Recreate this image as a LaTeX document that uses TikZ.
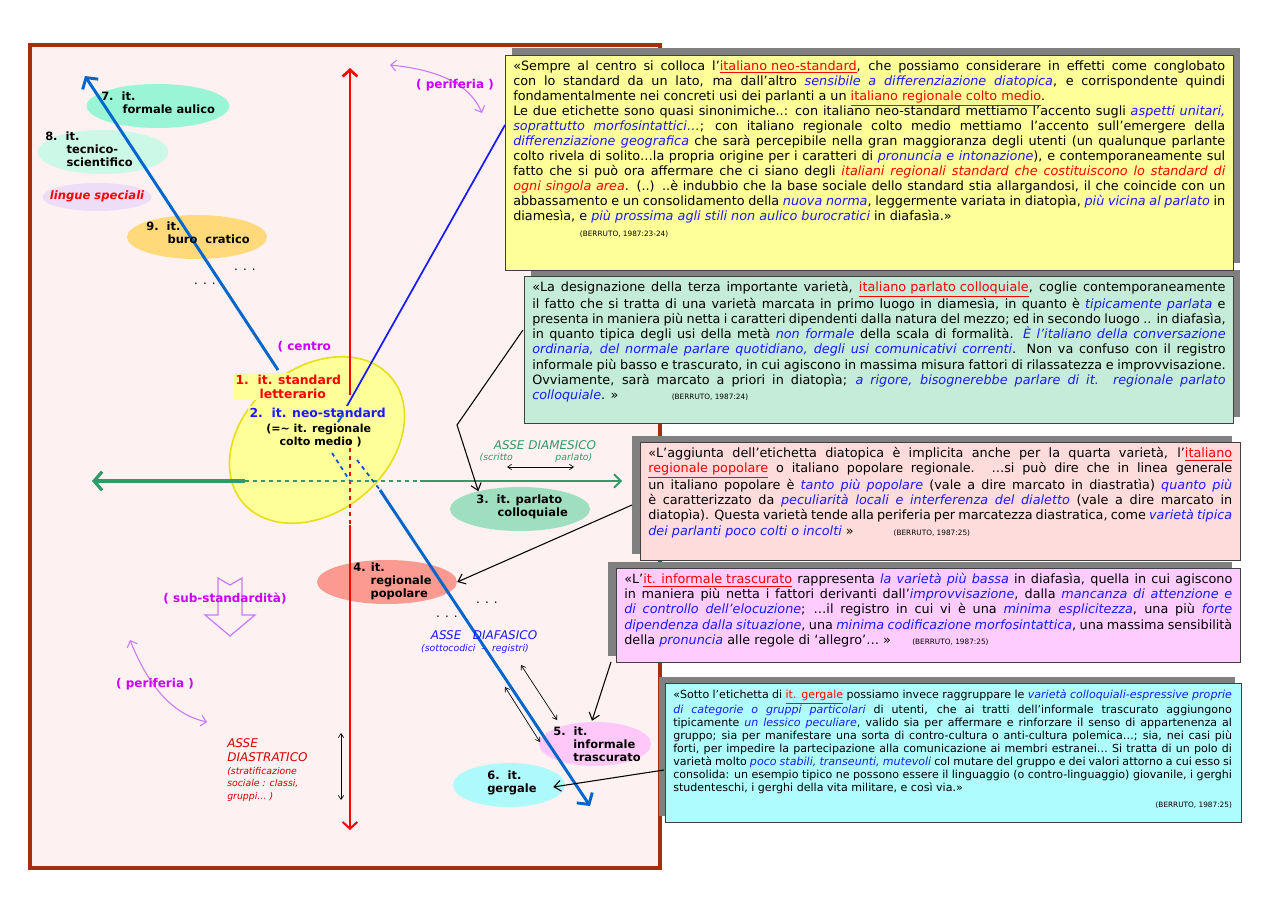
\documentclass[tikz,border=0pt]{standalone}
\usepackage{fontspec}
\setmainfont{DejaVu Sans}[ItalicFont={DejaVu Sans Oblique},BoldFont={DejaVu Sans Bold},BoldItalicFont={DejaVu Sans Bold Oblique}]
\usetikzlibrary{arrows.meta,shapes.geometric,calc}
\definecolor{bl}{HTML}{1A1AFF}
\definecolor{rd}{HTML}{FF0000}
\definecolor{mg}{HTML}{CC00FF}
\definecolor{lmg}{HTML}{CC77FF}
\definecolor{gr}{HTML}{339966}
\definecolor{tb}{HTML}{0066CC}
\definecolor{frm}{HTML}{A03010}
\definecolor{frmfill}{HTML}{FDF1F1}
\definecolor{yel}{HTML}{FFFF99}
\definecolor{grn}{HTML}{C4ECD8}
\definecolor{pnk}{HTML}{FFDCDC}
\definecolor{mag}{HTML}{FFCCFF}
\definecolor{cya}{HTML}{AEFCFC}
\definecolor{e7}{HTML}{99F5D5}
\definecolor{e8}{HTML}{CCF8E8}
\definecolor{els}{HTML}{EEDDF7}
\definecolor{e9}{HTML}{FFD97A}
\definecolor{e3}{HTML}{A0DEC0}
\definecolor{e4}{HTML}{FA9A90}
\definecolor{e5}{HTML}{FFC8F8}
\definecolor{e6}{HTML}{AEFAFA}
\newcommand\bi[1]{\textcolor{bl}{\textit{#1}}}
\newcommand\ri[1]{\textcolor{rd}{\textit{#1}}}
\newcommand\ur[1]{\textcolor{rd}{\underline{#1}}}
\newcommand\cit[1]{\mbox{\fontsize{5.5pt}{7pt}\selectfont #1}}
\tikzset{
 boxtext/.style={anchor=north west,inner xsep=6pt,inner ysep=4pt,align=justify,font=\fontsize{9.6pt}{11.3pt}\selectfont,
   execute at begin node={\hyphenpenalty=10000\exhyphenpenalty=10000\emergencystretch=3em}},
 boxframe/.style={draw=black!75,line width=0.6pt},
 shadowbox/.style={fill=black!50},
 elab/.style={anchor=north west,align=left,inner sep=0pt,font=\bfseries\fontsize{8.6pt}{9.5pt}\selectfont},
 ell/.style={ellipse,draw=none,inner sep=0pt},
 conn/.style={black,line width=0.8pt,-{Straight Barb[length=5pt,width=8pt]}},
 small/.style={{Straight Barb[length=3pt,width=4pt]}-{Straight Barb[length=3pt,width=4pt]},line width=0.5pt},
 mlab/.style={text=mg,font=\bfseries\fontsize{9pt}{10pt}\selectfont,inner sep=1pt},
}
\begin{document}
\begin{tikzpicture}[x=0.75pt,y=-0.75pt]
\useasboundingbox (0,0) rectangle (1280,905);
% frame
\draw[frm,fill=frmfill,line width=3pt] (30,45) rectangle (660,868);

% big yellow ellipse
\fill[yel,draw=yellow!90!black,line width=1.2pt,rotate around={40:(317,440)}] (317,440) ellipse [x radius=97, y radius=72];

% ellipses (sizes in pt = px*0.75)
\node[ell,fill=e7,minimum width=107pt,minimum height=33pt] (E7) at (158,106) {};
\node[ell,fill=e8,minimum width=98pt,minimum height=33pt] (E8) at (103,152) {};
\node[ell,fill=els,minimum width=82pt,minimum height=21pt] (ELS) at (97,197) {};
\node[ell,fill=e9,minimum width=105pt,minimum height=33pt] (E9) at (197,237) {};
\node[ell,fill=e3,minimum width=105pt,minimum height=33pt] (E3) at (520,509) {};
\node[ell,fill=e4,minimum width=105pt,minimum height=33pt] (E4) at (387,582) {};
\node[ell,fill=e5,minimum width=84pt,minimum height=33pt] (E5) at (595,744) {};
\node[ell,fill=e6,minimum width=84pt,minimum height=33pt] (E6) at (509,785) {};

% axes
\coordinate (RT) at (350,68);
\coordinate (RB) at (350,830);
\draw[rd,line width=2pt,-{Straight Barb[length=5pt,width=11pt]}] (350,395) -- (RT);
\draw[rd,line width=1.2pt,dashed] (350,440) -- (350,525);
\draw[rd,line width=1.5pt,-{Straight Barb[length=5pt,width=11pt]}] (350,525) -- (RB);
\coordinate (GL) at (92,481);
\coordinate (GR) at (622,481);
\draw[gr,line width=2.4pt,-{Straight Barb[length=6pt,width=14pt]}] (245,481) -- (GL);
\draw[gr,line width=1.4pt,dashed] (245,481) -- (420,481);
\draw[gr,line width=1.4pt,-{Straight Barb[length=5pt,width=10pt]}] (420,481) -- (GR);
% blue diagonal
\coordinate (BT) at (85,76);
\coordinate (BB) at (590,806);
\coordinate (B1) at (278,370);
\coordinate (B2) at (380,490);
\draw[tb,line width=2.2pt,-{Straight Barb[length=6pt,width=14pt]}] (B1) -- (BT);
\draw[tb,line width=2.2pt,-{Straight Barb[length=6pt,width=14pt]}] (B2) -- (BB);
\draw[tb!70!bl,line width=1.3pt,dashed] (357,460) -- (B2);
\draw[tb!70!bl,line width=1.3pt,dashed] (332,453) -- (350,481);

% shadows and boxes
\fill[shadowbox] (512,48) rectangle (1240,263);
\fill[shadowbox] (531,270) rectangle (1240,417);
\fill[shadowbox] (632,436) rectangle (1232,554);
\fill[shadowbox] (608,562) rectangle (1232,656);
\fill[shadowbox] (659,677) rectangle (1235,816);
\draw[boxframe,fill=yel] (505,55) rectangle (1233,270);
\draw[boxframe,fill=grn] (524,276) rectangle (1233,423);
\draw[boxframe,fill=pnk] (640,442) rectangle (1240,560);
\draw[boxframe,fill=mag] (616,568) rectangle (1240,662);
\draw[boxframe,fill=cya] (665,683) rectangle (1241,822);

\node[boxtext,text width=534pt] (TY) at (505,55) {«Sempre al centro si colloca l’\ur{italiano neo-standard}, che possiamo considerare in effetti come conglobato con lo standard da un lato, ma dall’altro \bi{sensibile a differenziazione diatopica}, e corrispondente quindi fondamentalmente nei concreti usi dei parlanti a un \ur{italiano regionale colto medio}.\\
Le due etichette sono quasi sinonimiche..: con italiano neo-standard mettiamo l’accento sugli \bi{aspetti unitari, soprattutto morfosintattici…}; con italiano regionale colto medio mettiamo l’accento sull’emergere della \bi{differenziazione geografica} che sarà percepibile nella gran maggioranza degli utenti (un qualunque parlante colto rivela di solito…la propria origine per i caratteri di \bi{pronuncia e intonazione}), e contemporaneamente sul fatto che si può ora affermare che ci siano degli \ri{italiani regionali standard che costituiscono lo standard di ogni singola area}. (..) ..è indubbio che la base sociale dello standard stia allargandosi, il che coincide con un abbassamento e un consolidamento della \bi{nuova norma}, leggermente variata in diatopìa, \bi{più vicina al parlato} in diamesìa, e \bi{più prossima agli stili non aulico burocratici} in diafasìa.»\\
\hspace*{50pt}\cit{(BERRUTO, 1987:23-24)}};

\node[boxtext,text width=520pt] (TG) at (524,276) {«La designazione della terza importante varietà, \ur{italiano parlato colloquiale}, coglie contemporaneamente il fatto che si tratta di una varietà marcata in primo luogo in diamesìa, in quanto è \bi{tipicamente parlata} e presenta in maniera più netta i caratteri dipendenti dalla natura del mezzo; ed in secondo luogo .. in diafasìa, in quanto tipica degli usi della metà \bi{non formale} della scala di formalità. \bi{È l’italiano della conversazione ordinaria, del normale parlare quotidiano, degli usi comunicativi correnti}. Non va confuso con il registro informale più basso e trascurato, in cui agiscono in massima misura fattori di rilassatezza e improvvisazione. Ovviamente, sarà marcato a priori in diatopìa; \bi{a rigore, bisognerebbe parlare di it. regionale parlato colloquiale}. »\hspace{40pt}\cit{(BERRUTO, 1987:24)}};

\node[boxtext,text width=438pt] (TP) at (640,442) {«L’aggiunta dell’etichetta diatopica è implicita anche per la quarta varietà, l’\ur{italiano} \ur{regionale popolare} o italiano popolare regionale. …si può dire che in linea generale un italiano popolare è \bi{tanto più popolare} (vale a dire marcato in diastratìa) \bi{quanto più} è caratterizzato da \bi{peculiarità locali e interferenza del dialetto} (vale a dire marcato in diatopìa). Questa varietà tende alla periferia per marcatezza diastratica, come \bi{varietà tipica dei parlanti poco colti o incolti} »\hspace{30pt}\cit{(BERRUTO, 1987:25)}};

\node[boxtext,text width=456pt] (TM) at (616,568) {«L’\ur{it. informale trascurato} rappresenta \bi{la varietà più bassa} in diafasìa, quella in cui agiscono in maniera più netta i fattori derivanti dall’\bi{improvvisazione}, dalla \bi{mancanza di attenzione e di controllo dell’elocuzione}; …il registro in cui vi è una \bi{minima esplicitezza}, una più \bi{forte dipendenza dalla situazione}, una \bi{minima codificazione morfosintattica}, una massima sensibilità della \bi{pronuncia} alle regole di ‘allegro’… »\hspace{16pt}\cit{(BERRUTO, 1987:25)}};

\node[boxtext,text width=419pt,inner ysep=5pt,font=\fontsize{8.3pt}{9.75pt}\selectfont] (TC) at (665,683) {«Sotto l’etichetta di \ur{it. gergale} possiamo invece raggruppare le \bi{varietà colloquiali-espressive proprie di categorie o gruppi particolari} di utenti, che ai tratti dell’informale trascurato aggiungono tipicamente \bi{un lessico peculiare}, valido sia per affermare e rinforzare il senso di appartenenza al gruppo; sia per manifestare una sorta di contro-cultura o anti-cultura polemica…; sia, nei casi più forti, per impedire la partecipazione alla comunicazione ai membri estranei… Si tratta di un polo di varietà molto \bi{poco stabili, transeunti, mutevoli} col mutare del gruppo e dei valori attorno a cui esso si consolida: un esempio tipico ne possono essere il linguaggio (o contro-linguaggio) giovanile, i gerghi studenteschi, i gerghi della vita militare, e così via.»\\[2pt]
\hspace*{\fill}\cit{(BERRUTO, 1987:25)}};

% connectors
\coordinate (cY) at (505,125);
\coordinate (cYe) at (338,422);
\draw[bl,line width=1.3pt] (cY) -- (cYe);
\coordinate (cG) at (523,330);
\coordinate (cGm) at (457,425);
\draw[conn] (cG) -- (cGm) -- ($(E3.north west)+(8,-2)$);
\coordinate (cP) at (632,505);
\draw[conn] (cP) -- (E4.east);
\coordinate (cM) at (611,662);
\draw[conn] (cM) -- ($(E5.north)+(-3,-1)$);
\coordinate (cC) at (664,770);
\draw[conn] (cC) -- ($(E6.east)+(-12,2)$);

% purple curved arrows
\coordinate (p1a) at (390,65);
\coordinate (p1b) at (482,113);
\draw[lmg,line width=0.8pt,{Straight Barb[length=4pt,width=8pt]}-{Straight Barb[length=4pt,width=8pt]}] (p1a) .. controls (440,70) and (470,85) .. (p1b);
\coordinate (p2a) at (130,640);
\coordinate (p2b) at (207,722);
\draw[lmg,line width=0.8pt,{Straight Barb[length=4pt,width=8pt]}-{Straight Barb[length=4pt,width=8pt]}] (p2a) .. controls (150,690) and (175,715) .. (p2b);
% hollow down arrow
\draw[lmg,line width=0.9pt] (218,578) -- (230,585) -- (242,578) -- (242,615) -- (255,615) -- (230,636) -- (205,615) -- (218,615) -- cycle;

% small double arrows
\coordinate (s1a) at (507,467); \coordinate (s1b) at (574,467);
\draw[small] (s1a) -- (s1b);
\coordinate (s2a) at (521,665); \coordinate (s2b) at (557,720);
\draw[small] (s2a) -- (s2b);
\coordinate (s3a) at (505,687); \coordinate (s3b) at (540,742);
\draw[small] (s3a) -- (s3b);
\coordinate (s4a) at (341,733); \coordinate (s4b) at (341,800);
\draw[small] (s4a) -- (s4b);

% ellipse labels
\node[elab] (L7) at (101,92) {7.\ \ it.\\\hspace*{16pt}formale aulico};
\node[elab] (L8) at (45,132) {8.\ \ it.\\\hspace*{16pt}tecnico-\\\hspace*{16pt}scientifico};
\node[text=rd,font=\bfseries\itshape\fontsize{8.7pt}{10pt}\selectfont,inner sep=0pt] (LLS) at (97,196) {lingue speciali};
\node[elab] (L9) at (146,222) {9.\ \ it.\\\hspace*{16pt}buro\ \ cratico};
\node[elab] (L3) at (476,495) {3.\ \ it. parlato\\\hspace*{16pt}colloquiale};
\node[elab] (L4) at (353,563) {4. it.\\\hspace*{13pt}regionale\\\hspace*{13pt}popolare};
\node[elab] (L5) at (553,727) {5.\ \ it.\\\hspace*{15pt}informale\\\hspace*{15pt}trascurato};
\node[elab] (L6) at (487,771) {6.\ \ it.\\gergale};

% central labels
\node[mlab,anchor=west] (LC) at (276,347) {( centro};
\node[mlab] (LP1) at (455,85) {( periferia )};
\node[mlab] (LSS) at (225,598) {( sub-standardità)};
\node[mlab] (LP2) at (155,684) {( periferia )};
\node[anchor=north west,fill=yel,inner sep=1pt,align=left,text=rd,font=\bfseries\fontsize{9.3pt}{10.5pt}\selectfont] (L1) at (234,373) {1.\ \ it. standard\\\hspace*{18pt}letterario};
\node[anchor=north west,fill=yel,inner sep=1pt,text=bl,font=\bfseries\fontsize{9.3pt}{10.5pt}\selectfont] (L2) at (248,406) {2.\ \ it. neo-standard};
\node[anchor=north west,inner sep=0pt,align=left,font=\bfseries\fontsize{8.3pt}{9.8pt}\selectfont] (L2b) at (266,424) {(=\~{} it. regionale\\\hspace*{10pt}colto medio )};
\draw[tb,line width=1.3pt] (cYe) -- (343,415);

% dots
\node[font=\fontsize{9pt}{9pt}\selectfont] (d1) at (245,270) {. . .};
\node[font=\fontsize{9pt}{9pt}\selectfont] (d2) at (205,284) {. . .};
\node[font=\fontsize{9pt}{9pt}\selectfont] (d3) at (487,603) {. . .};
\node[font=\fontsize{9pt}{9pt}\selectfont] (d4) at (447,617) {. . .};

% axis labels
\node[text=gr,font=\itshape\fontsize{9pt}{10pt}\selectfont] (AD) at (545,445) {ASSE DIAMESICO};
\node[text=gr,font=\itshape\fontsize{7pt}{8pt}\selectfont] (ADs) at (536,458) {(scritto\hspace{32pt}parlato)};
\node[text=bl,font=\itshape\fontsize{9pt}{10pt}\selectfont] (AF) at (484,635) {ASSE\ \ \ DIAFASICO};
\node[text=bl,font=\itshape\fontsize{7pt}{8pt}\selectfont] (AFs) at (475,649) {(sottocodici\ \ –\ \ registri)};
\node[anchor=north west,align=left,inner sep=0pt,text=rd!85!black,font=\itshape\fontsize{9pt}{11pt}\selectfont] (AS) at (227,738) {ASSE\\DIASTRATICO};
\node[anchor=north west,align=left,inner sep=0pt,text=rd!85!black,font=\itshape\fontsize{7pt}{9.4pt}\selectfont] (ASs) at (227,767) {(stratificazione\\sociale : classi,\\gruppi… )};
\end{tikzpicture}
\end{document}
